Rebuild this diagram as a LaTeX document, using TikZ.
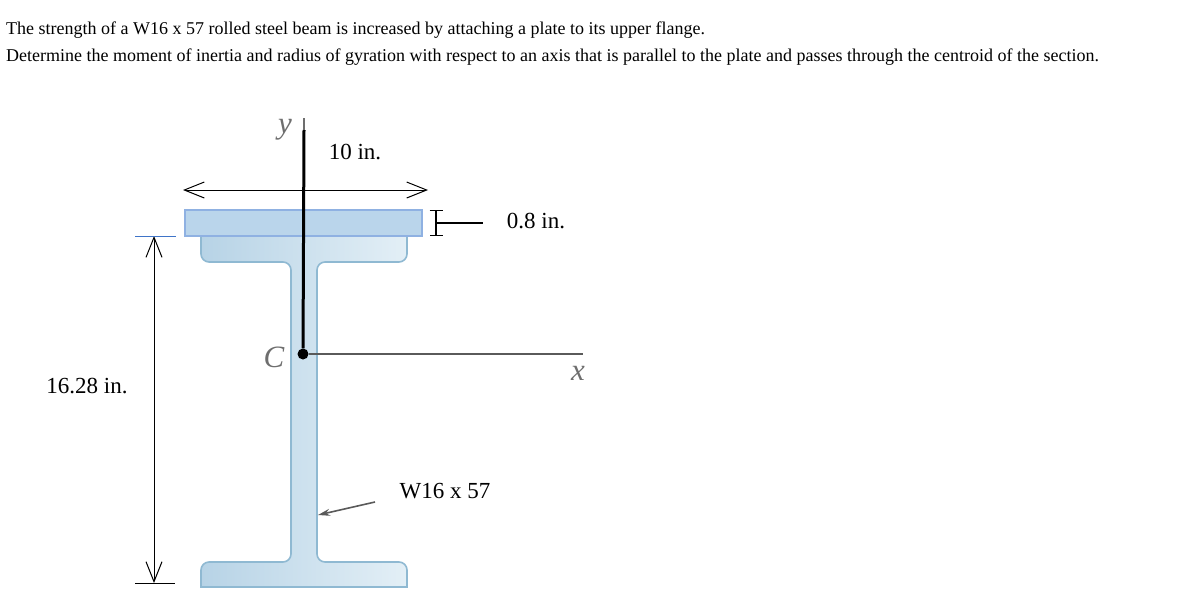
\documentclass[tikz,border=0pt]{standalone}
\usepackage{fontspec}
\setmainfont{Liberation Serif}
\usetikzlibrary{arrows.meta}

\definecolor{beamEdge}{HTML}{8FB9D2}
\definecolor{beamLeft}{HTML}{B7D3E6}
\definecolor{beamMid}{HTML}{A9CCE2}
\definecolor{beamRight}{HTML}{E3EFF6}
\definecolor{plateFill}{HTML}{BAD5EB}
\definecolor{plateEdge}{HTML}{8FB1E2}
\definecolor{axisGray}{HTML}{5A5A5A}
\definecolor{letterGray}{HTML}{6E6E6E}
\definecolor{leaderBlue}{HTML}{3F74C8}

\tikzset{
    problemtext/.style={anchor=base west,inner sep=0,font=\fontsize{18}{21}\selectfont},
    dimlabel/.style={inner sep=0,font=\fontsize{23}{27}\selectfont},
    axislabel/.style={inner sep=0,text=letterGray,font=\fontsize{31}{36}\selectfont\itshape},
    dimline/.style={black,line width=1pt},
    dimarrow/.style={dimline,{Straight Barb[length=20pt,width=16pt]}-{Straight Barb[length=20pt,width=16pt]}},
}

\begin{document}
\begin{tikzpicture}[x=1pt,y=-1pt]

        % -----------
        % Parameters.
        % -----------

        % Constants.
        \pgfmathsetmacro{\xWeb}{304}            % x-position of y-axis.
        \pgfmathsetmacro{\yCentroid}{354}       % y-position of x-axis.
        \pgfmathsetmacro{\rFillet}{8}           % Fillet and corner radius.

        % Bounding box.
        \useasboundingbox(0,0)rectangle(1193,600);

        % --------
        % Drawing.
        % --------

        % Problem statement.
        \node[problemtext](lineOne)at(6,34){The strength of a W16 x 57 rolled steel beam is increased by attaching a plate to its upper flange.};
        \node[problemtext](lineTwo)at(6,61){Determine the moment of inertia and radius of gyration with respect to an axis that is parallel to the plate and passes through the centroid of the section.};

        % Rolled beam section.
        \draw[draw=beamEdge,line width=1.6pt,left color=beamLeft,middle color=beamMid,right color=beamRight]
            (201,236)--(407,236)--(407,262-\rFillet)arc[start angle=0,end angle=90,radius=\rFillet]
            --(317+\rFillet,262)arc[start angle=270,end angle=180,radius=\rFillet]
            --(317,562-\rFillet)arc[start angle=180,end angle=90,radius=\rFillet]
            --(407-\rFillet,562)arc[start angle=270,end angle=360,radius=\rFillet]
            --(407,587)--(201,587)--(201,562+\rFillet)arc[start angle=180,end angle=270,radius=\rFillet]
            --(291-\rFillet,562)arc[start angle=90,end angle=0,radius=\rFillet]
            --(291,262+\rFillet)arc[start angle=360,end angle=270,radius=\rFillet]
            --(201+\rFillet,262)arc[start angle=90,end angle=180,radius=\rFillet]--cycle;

        % Plate.
        \draw[draw=plateEdge,line width=2pt,fill=plateFill](185,210)rectangle(422,236);

        % Axes.
        \coordinate(yTop)at(\xWeb,130);
        \coordinate(yStub)at(\xWeb,118);
        \coordinate(xEnd)at(583,\yCentroid);
        \node[circle,fill=black,inner sep=0,minimum size=11pt](centroid)at(\xWeb-1,\yCentroid){};
        \draw[letterGray,line width=1.5pt](yStub)--(yTop);
        \draw[black,line width=3pt](yTop)--(centroid);
        \draw[axisGray,line width=2.8pt](centroid)--(xEnd);
        \node[axislabel](yLabel)at(285,130){y};
        \node[axislabel](cLabel)at(274,357){C};
        \node[axislabel](xLabel)at(578,373){x};

        % Plate width.
        \coordinate(widthLeft)at(183,190);
        \coordinate(widthRight)at(428,190);
        \draw[dimarrow](widthLeft)--(widthRight);
        \node[dimlabel](widthLabel)at(355,152){10 in.};

        % Plate thickness.
        \coordinate(thickTop)at(436,210);
        \coordinate(thickBottom)at(436,236);
        \coordinate(thickMid)at(436,223);
        \coordinate(thickEnd)at(483,223);
        \draw[dimline,line width=1.3pt,{Bar[width=13pt]}-{Bar[width=13pt]}](thickTop)--(thickBottom);
        \draw[dimline,line width=1.3pt](thickMid)--(thickEnd);
        \node[dimlabel](thickLabel)at(536,221){0.8 in.};

        % Overall depth.
        \coordinate(depthTop)at(154,236);
        \coordinate(depthBottom)at(154,583);
        \coordinate(leaderTopLeft)at(135,236);
        \coordinate(leaderTopRight)at(176,236);
        \coordinate(leaderBottomLeft)at(135,583);
        \coordinate(leaderBottomRight)at(175,583);
        \draw[dimarrow](depthTop)--(depthBottom);
        \draw[leaderBlue,line width=1pt](leaderTopLeft)--(leaderTopRight);
        \draw[dimline](leaderBottomLeft)--(leaderBottomRight);
        \node[dimlabel](depthLabel)at(87,386){16.28 in.};

        % Beam designation.
        \node[dimlabel](beamLabel)at(445,491){W16 x 57};
        \coordinate(pointerStart)at(375,502);
        \coordinate(pointerEnd)at(318,515);
        \draw[axisGray,line width=1.6pt,-{Stealth[length=12pt,width=7pt]}](pointerStart)--(pointerEnd);

    \end{tikzpicture}
\end{document}
